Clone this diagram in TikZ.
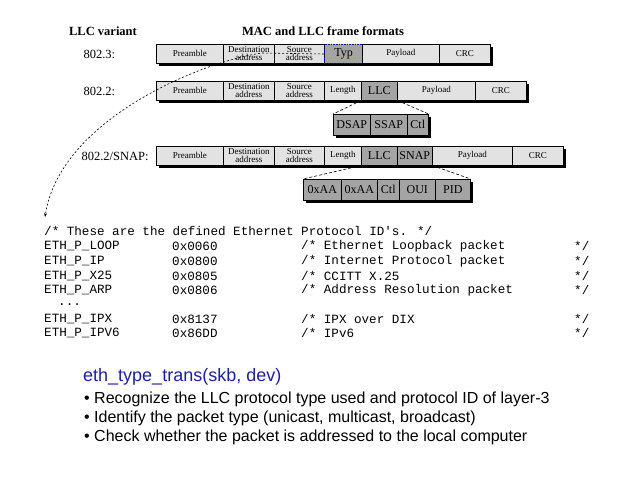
\documentclass[tikz,border=0pt]{standalone}
\usepackage{fontspec}
\setmainfont{Liberation Serif}
\newfontfamily\codefont{Liberation Mono}
\newfontfamily\sansf{Liberation Sans}
\usetikzlibrary{arrows.meta}
\definecolor{cellL}{HTML}{E2E2E2}
\definecolor{cellD}{HTML}{A4A4A4}
\definecolor{titleblue}{HTML}{1E1EA8}
\tikzset{x=1pt,y=-1pt,
 cell/.style={draw=black,line width=0.6pt,fill=cellL,anchor=north west,minimum height=19pt,inner sep=0pt,font=\fontsize{9}{7.5}\selectfont,align=center},
 dcell/.style={cell,fill=cellD,font=\fontsize{12}{12}\selectfont},
 subcell/.style={dcell,minimum height=21pt},
 shadow/.style={fill=black},
 lab/.style={anchor=west,font=\fontsize{12.5}{13}\selectfont},
 code/.style={anchor=west,inner sep=0pt,font=\codefont\fontsize{12.6}{12}\selectfont},
 bul/.style={anchor=west,inner sep=0pt,font=\sansf\fontsize{16}{16}\selectfont},
 conn/.style={densely dashed,line width=0.6pt}}
\begin{document}
\begin{tikzpicture}
\useasboundingbox (0,0) rectangle (638,478);
\node[anchor=center,font=\bfseries\fontsize{12.5}{12}\selectfont] (t1) at (103,31) {LLC variant};
\node[anchor=center,font=\bfseries\fontsize{12.5}{12}\selectfont] (t2) at (323,31) {MAC and LLC frame formats};
\node[lab] (l1) at (80,54) {802.3:};
\node[lab] (l2) at (80,91) {802.2:};
\node[lab] (l3) at (78,156) {802.2/SNAP:};
% row 1
\fill[shadow] (159,47) rectangle (493,66);
\node[cell,minimum width=67] (a1) at (156,44) {Preamble};
\node[cell,minimum width=51] (a2) at (223,44) {Destination\\address};
\node[cell,minimum width=50] (a3) at (274,44) {Source\\address};
\node[dcell,minimum width=38,draw=blue!70!black,densely dotted,line width=1pt] (typ) at (324,44) {Typ};
\node[cell,minimum width=77] (a5) at (362,44) {Payload};
\node[cell,minimum width=51] (a6) at (439,44) {CRC};
% row 2
\fill[shadow] (159,84) rectangle (529,103);
\node[cell,minimum width=67] (b1) at (156,81) {Preamble};
\node[cell,minimum width=51] (b2) at (223,81) {Destination\\address};
\node[cell,minimum width=50] (b3) at (274,81) {Source\\address};
\node[cell,minimum width=37] (b4) at (324,81) {Length};
\node[dcell,minimum width=36] (llc2) at (361,81) {LLC};
\node[cell,minimum width=78] (b6) at (397,81) {Payload};
\node[cell,minimum width=51] (b7) at (475,81) {CRC};
% sub row 2
\fill[shadow] (336,117) rectangle (431,138);
\node[subcell,minimum width=37] (dsap) at (333,114) {DSAP};
\node[subcell,minimum width=37] (ssap) at (370,114) {SSAP};
\node[subcell,minimum width=21] (ctl1) at (407,114) {Ctl};
% row 3
\fill[shadow] (159,149) rectangle (566,168);
\node[cell,minimum width=67] (c1) at (156,146) {Preamble};
\node[cell,minimum width=51] (c2) at (223,146) {Destination\\address};
\node[cell,minimum width=50] (c3) at (274,146) {Source\\address};
\node[cell,minimum width=37] (c4) at (324,146) {Length};
\node[dcell,minimum width=36] (llc3) at (361,146) {LLC};
\node[dcell,minimum width=35] (snap) at (397,146) {SNAP};
\node[cell,minimum width=80] (c7) at (432,146) {Payload};
\node[cell,minimum width=51] (c8) at (512,146) {CRC};
% sub row 3
\fill[shadow] (306,182) rectangle (473,203);
\node[subcell,minimum width=38] (aa1) at (303,179) {0xAA};
\node[subcell,minimum width=36] (aa2) at (341,179) {0xAA};
\node[subcell,minimum width=22] (ctl2) at (377,179) {Ctl};
\node[subcell,minimum width=36] (oui) at (399,179) {OUI};
\node[subcell,minimum width=35] (pid) at (435,179) {PID};
% connectors
\draw[conn] (llc2.south west) -- (dsap.north west);
\draw[conn] (llc2.south east) -- (ctl1.north east);
\draw[conn] (llc3.south west) -- (aa1.north west);
\draw[conn] (snap.south east) -- (pid.north east);
\coordinate (arr) at (45,217);
\draw[conn,dash pattern=on 2pt off 2pt,-{Stealth[length=4pt]}] (typ.west) -- (262,53) .. controls (200,62) and (60,120) .. (arr);
% code
\node[code] (h) at (44,231) {/* These are the defined Ethernet Protocol ID's. */};
\foreach \n/\v/\c/\y in {ETH\_P\_LOOP/0x0060/{/* Ethernet Loopback packet}/246,
  ETH\_P\_IP/0x0800/{/* Internet Protocol packet}/261,
  ETH\_P\_X25/0x0805/{/* CCITT X.25}/276,
  ETH\_P\_ARP/0x0806/{/* Address Resolution packet}/290,
  ETH\_P\_IPX/0x8137/{/* IPX over DIX}/319,
  ETH\_P\_IPV6/0x86DD/{/* IPv6}/333}{
  \node[code] at (44,\y) {\n};
  \node[code] at (172,\y) {\v};
  \node[code] at (301,\y) {\c};
  \node[code] at (574,\y) {*/};
}
\node[anchor=base west,inner sep=0pt,font=\codefont\fontsize{12.6}{12}\selectfont] (dots) at (58,306) {...};
% text
\node[bul,text=titleblue,font=\sansf\fontsize{18}{18}\selectfont] (ft) at (83,377) {eth\_type\_trans(skb, dev)};
\node[bul] (b1t) at (84,399) {\textbullet\ Recognize the LLC protocol type used and protocol ID of layer-3};
\node[bul] (b2t) at (84,418) {\textbullet\ Identify the packet type (unicast, multicast, broadcast)};
\node[bul] (b3t) at (84,437) {\textbullet\ Check whether the packet is addressed to the local computer};
\end{tikzpicture}
\end{document}
